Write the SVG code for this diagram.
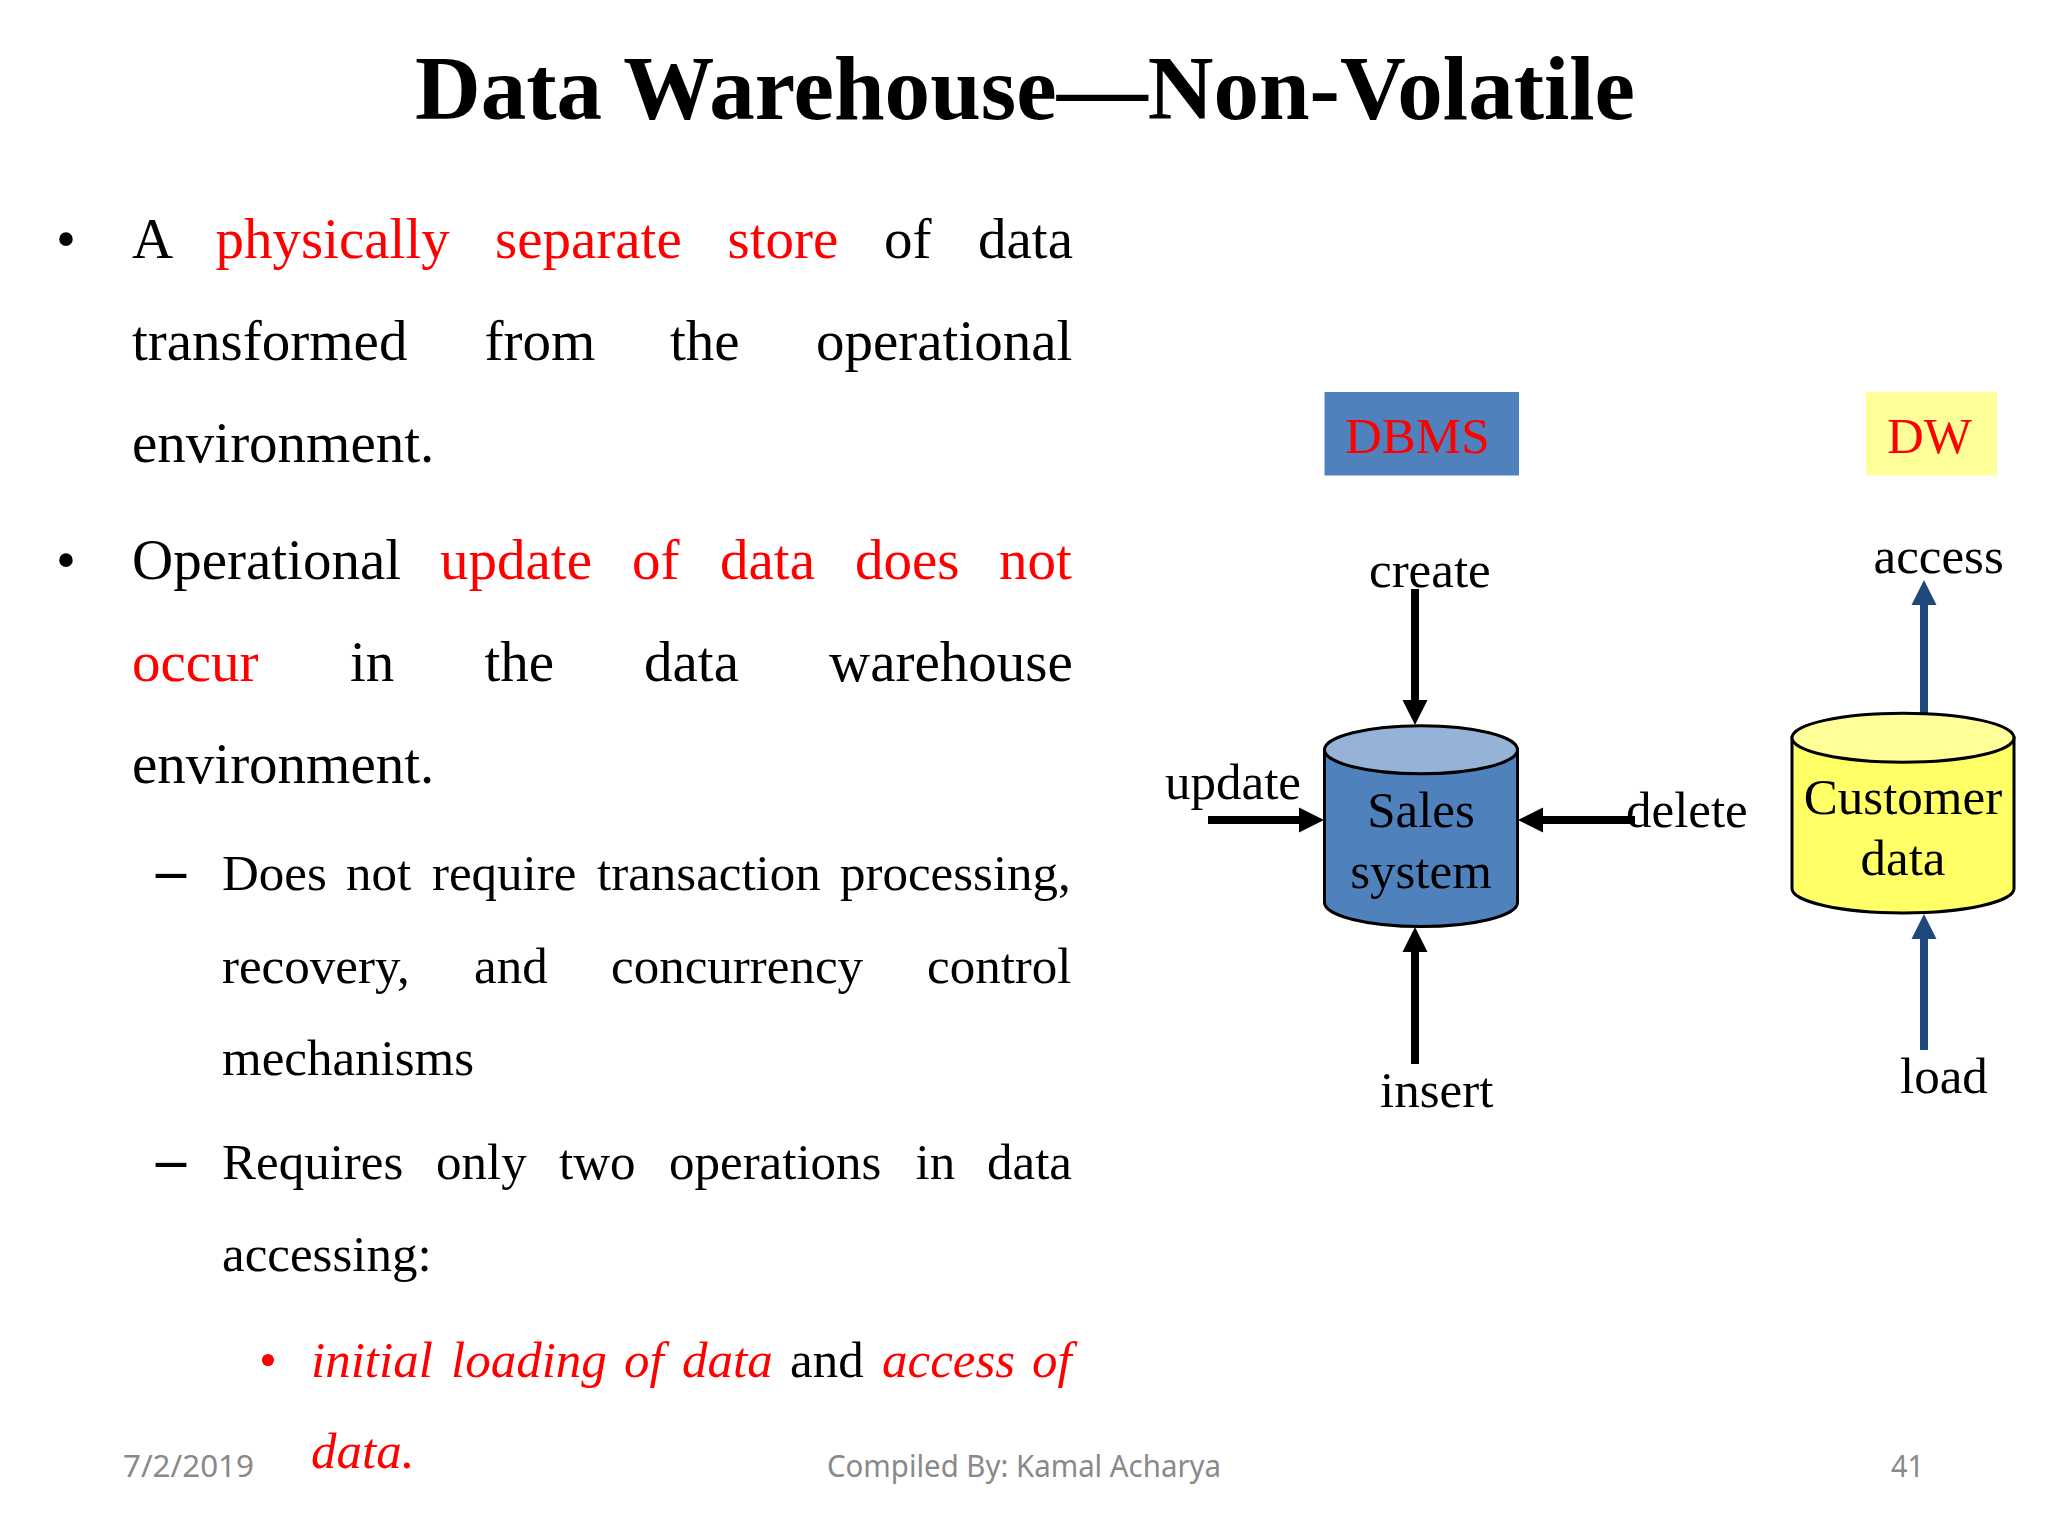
<svg xmlns="http://www.w3.org/2000/svg" width="2048" height="1536" viewBox="0 0 2048 1536">
<style>
text{font-family:"Liberation Serif","Times New Roman",serif;fill:#000}
.title{font-size:90px;font-weight:bold}
.b1{font-size:57px}
.b2{font-size:51px}
.b3{font-size:51px}
.dash{font-size:60px;font-weight:bold}
.d{font-size:51px}
.m{text-anchor:middle}
.r{fill:#f00}
.i{font-style:italic}
.f{font-family:"Noto Sans","Open Sans",sans-serif;font-size:30px;fill:#898989}
.k{fill:none;stroke:#000;stroke-width:8;marker-end:url(#ah)}
.n{fill:none;stroke:#1f497d;stroke-width:8;marker-end:url(#ab)}
.cyl{stroke:#000;stroke-width:3}
</style>
<defs>
<marker id="ah" markerUnits="userSpaceOnUse" markerWidth="25" markerHeight="25" refX="0" refY="12.5" orient="auto" overflow="visible"><path d="M0,0 L25,12.5 L0,25 Z" fill="#000"/></marker>
<marker id="ab" markerUnits="userSpaceOnUse" markerWidth="25" markerHeight="25" refX="0" refY="12.5" orient="auto" overflow="visible"><path d="M0,0 L25,12.5 L0,25 Z" fill="#1f497d"/></marker>
</defs>
<rect width="2048" height="1536" fill="#fff"/>
<text class="title" x="415" y="119" textLength="1220" lengthAdjust="spacingAndGlyphs">Data Warehouse—Non-Volatile</text>

<g id="body">
<text class="b1" x="56" y="258">•</text>
<text class="b1" y="258"><tspan x="132">A</tspan><tspan class="r" x="215.5">physically</tspan><tspan class="r" x="495">separate</tspan><tspan class="r" x="727.5">store</tspan><tspan x="884">of</tspan><tspan x="978">data</tspan></text>
<text class="b1" y="360"><tspan x="132">transformed</tspan><tspan x="484.5">from</tspan><tspan x="670">the</tspan><tspan x="816">operational</tspan></text>
<text class="b1" x="132" y="462">environment.</text>
<text class="b1" x="56" y="579">•</text>
<text class="b1" y="579"><tspan x="132">Operational</tspan><tspan class="r" x="440">update</tspan><tspan class="r" x="632">of</tspan><tspan class="r" x="720">data</tspan><tspan class="r" x="855">does</tspan><tspan class="r" x="999">not</tspan></text>
<text class="b1" y="681"><tspan class="r" x="132">occur</tspan><tspan x="350">in</tspan><tspan x="484.5">the</tspan><tspan x="644">data</tspan><tspan x="829">warehouse</tspan></text>
<text class="b1" x="132" y="783">environment.</text>
<text class="dash" x="156" y="890">–</text>
<text class="b2" y="890"><tspan x="222">Does</tspan><tspan x="346">not</tspan><tspan x="432">require</tspan><tspan x="597">transaction</tspan><tspan x="840">processing,</tspan></text>
<text class="b2" y="983"><tspan x="222">recovery,</tspan><tspan x="474">and</tspan><tspan x="611">concurrency</tspan><tspan x="927">control</tspan></text>
<text class="b2" x="222" y="1075">mechanisms</text>
<text class="dash" x="156" y="1179">–</text>
<text class="b2" y="1179"><tspan x="222">Requires</tspan><tspan x="436">only</tspan><tspan x="559">two</tspan><tspan x="669">operations</tspan><tspan x="915.5">in</tspan><tspan x="987">data</tspan></text>
<text class="b2" x="222" y="1271">accessing:</text>
<text class="b2 r" x="259" y="1377">•</text>
<text class="b3" y="1377"><tspan class="r i" x="311">initial</tspan><tspan class="r i" x="451">loading</tspan><tspan class="r i" x="624">of</tspan><tspan class="r i" x="682">data</tspan><tspan x="790">and</tspan><tspan class="r i" x="882">access</tspan><tspan class="r i" x="1032">of</tspan></text>
<text class="b3 r i" x="311" y="1468">data.</text>
</g>

<g id="connectors">
<path class="k" d="M1415,589 V700"/>
<path class="k" d="M1208,820 H1299"/>
<path class="k" d="M1635,820 H1543"/>
<path class="k" d="M1415,1064 V952"/>
<path class="n" d="M1924,713 V605"/>
<path class="n" d="M1924,1050 V939"/>
</g>

<g id="dbms-label">
<rect x="1324.5" y="392" width="194.5" height="83.5" fill="#4f81bd"/>
<text class="d r" x="1345" y="452.5">DBMS</text>
</g>
<g id="dw-label">
<rect x="1866" y="392" width="131" height="83.5" fill="#ffff99"/>
<text class="d r" x="1887" y="452.5">DW</text>
</g>
<g id="sales-system">
<path class="cyl" fill="#4f81bd" d="M1324.5,749.7 V902.5 A96.5,24 0 0 0 1517.5,902.5 V749.7 Z"/>
<ellipse class="cyl" cx="1421" cy="749.7" rx="96.5" ry="24" fill="#95b3d7"/>
<text class="d m" x="1421" y="826.5">Sales</text>
<text class="d m" x="1421" y="888">system</text>
</g>
<g id="customer-data">
<path class="cyl" fill="#ffff66" d="M1792,737.7 V888.4 A111,24.5 0 0 0 2014,888.4 V737.7 Z"/>
<ellipse class="cyl" cx="1903" cy="737.7" rx="111" ry="24.5" fill="#ffff99"/>
<text class="d m" x="1903" y="814">Customer</text>
<text class="d m" x="1903" y="874.5">data</text>
</g>
<g id="op-create"><text class="d" x="1369" y="586.5">create</text></g>
<g id="op-update"><text class="d" x="1165" y="799">update</text></g>
<g id="op-delete"><text class="d" x="1626" y="826.5">delete</text></g>
<g id="op-insert"><text class="d" x="1380" y="1106.5">insert</text></g>
<g id="op-access"><text class="d" x="1873.5" y="572.5">access</text></g>
<g id="op-load"><text class="d" x="1900" y="1092.5">load</text></g>

<g id="footer">
<text class="f" x="123" y="1477" textLength="131" lengthAdjust="spacingAndGlyphs">7/2/2019</text>
<text class="f" x="827" y="1477" textLength="394" lengthAdjust="spacingAndGlyphs">Compiled By: Kamal Acharya</text>
<text class="f" x="1891" y="1477" textLength="33" lengthAdjust="spacingAndGlyphs">41</text>
</g>
</svg>
